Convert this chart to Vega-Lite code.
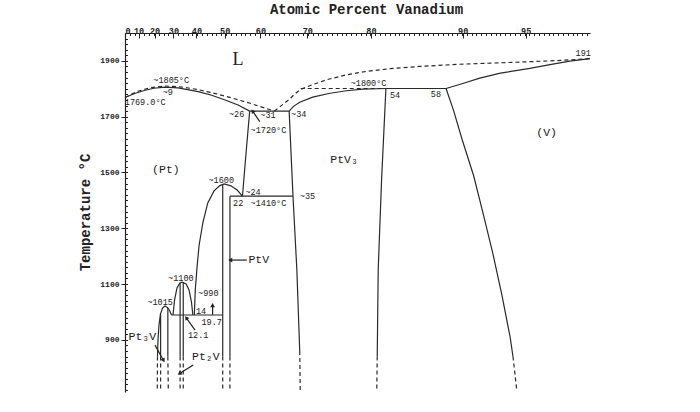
{
  "$schema": "https://vega.github.io/schema/vega-lite/v6.json",
  "width": 465,
  "height": 359,
  "autosize": {"type": "none"},
  "padding": {"left": 125, "top": 33, "right": 110, "bottom": 20},
  "background": "white",
  "view": {"stroke": null},
  "config": {"axis": {"grid": false, "domainColor": "#222", "tickColor": "#222", "labelColor": "#222", "titleColor": "#222"}},
  "datasets": {
    "solid": [
      {"id": "s1", "o": 0, "wt": 0, "T": 1769}, {"id": "s1", "o": 1, "wt": 2, "T": 1783}, {"id": "s1", "o": 2, "wt": 4, "T": 1794}, {"id": "s1", "o": 3, "wt": 6, "T": 1802}, {"id": "s1", "o": 4, "wt": 8.3, "T": 1806}, {"id": "s1", "o": 5, "wt": 11, "T": 1803}, {"id": "s1", "o": 6, "wt": 13, "T": 1797}, {"id": "s1", "o": 7, "wt": 15.2, "T": 1790}, {"id": "s1", "o": 8, "wt": 18, "T": 1777}, {"id": "s1", "o": 9, "wt": 20.8, "T": 1760}, {"id": "s1", "o": 10, "wt": 23.5, "T": 1742}, {"id": "s1", "o": 11, "wt": 25.9, "T": 1720},
      {"id": "s2", "o": 0, "wt": 25.9, "T": 1720}, {"id": "s2", "o": 1, "wt": 34.1, "T": 1720},
      {"id": "s3", "o": 0, "wt": 34.1, "T": 1720}, {"id": "s3", "o": 1, "wt": 35, "T": 1737}, {"id": "s3", "o": 2, "wt": 36.3, "T": 1752}, {"id": "s3", "o": 3, "wt": 39, "T": 1770}, {"id": "s3", "o": 4, "wt": 42.6, "T": 1784}, {"id": "s3", "o": 5, "wt": 46, "T": 1793}, {"id": "s3", "o": 6, "wt": 49.4, "T": 1799}, {"id": "s3", "o": 7, "wt": 54.2, "T": 1801},
      {"id": "s4", "o": 0, "wt": 54.2, "T": 1801}, {"id": "s4", "o": 1, "wt": 66.7, "T": 1801},
      {"id": "s5", "o": 0, "wt": 66.7, "T": 1801}, {"id": "s5", "o": 1, "wt": 70, "T": 1818}, {"id": "s5", "o": 2, "wt": 73.7, "T": 1838}, {"id": "s5", "o": 3, "wt": 78, "T": 1856}, {"id": "s5", "o": 4, "wt": 84.1, "T": 1873}, {"id": "s5", "o": 5, "wt": 88, "T": 1886}, {"id": "s5", "o": 6, "wt": 92.4, "T": 1899}, {"id": "s5", "o": 7, "wt": 96.6, "T": 1908},
      {"id": "s6", "o": 0, "wt": 25.9, "T": 1720}, {"id": "s6", "o": 1, "wt": 25.1, "T": 1560}, {"id": "s6", "o": 2, "wt": 24.4, "T": 1415},
      {"id": "s7", "o": 0, "wt": 34.1, "T": 1720}, {"id": "s7", "o": 1, "wt": 34.9, "T": 1415}, {"id": "s7", "o": 2, "wt": 35.7, "T": 1151}, {"id": "s7", "o": 3, "wt": 36.3, "T": 860},
      {"id": "s8", "o": 0, "wt": 54.2, "T": 1801}, {"id": "s8", "o": 1, "wt": 53.3, "T": 1473}, {"id": "s8", "o": 2, "wt": 52.6, "T": 1151}, {"id": "s8", "o": 3, "wt": 52.4, "T": 840},
      {"id": "s9", "o": 0, "wt": 66.7, "T": 1801}, {"id": "s9", "o": 1, "wt": 68.3, "T": 1720}, {"id": "s9", "o": 2, "wt": 70, "T": 1620}, {"id": "s9", "o": 3, "wt": 72.4, "T": 1490}, {"id": "s9", "o": 4, "wt": 74.3, "T": 1360}, {"id": "s9", "o": 5, "wt": 76.4, "T": 1211}, {"id": "s9", "o": 6, "wt": 78.3, "T": 1060}, {"id": "s9", "o": 7, "wt": 80, "T": 911}, {"id": "s9", "o": 8, "wt": 80.6, "T": 840},
      {"id": "s10", "o": 0, "wt": 21.8, "T": 1415}, {"id": "s10", "o": 1, "wt": 34.9, "T": 1415},
      {"id": "s11", "o": 0, "wt": 14.4, "T": 989}, {"id": "s11", "o": 1, "wt": 14.6, "T": 1079}, {"id": "s11", "o": 2, "wt": 15.0, "T": 1168}, {"id": "s11", "o": 3, "wt": 15.4, "T": 1240}, {"id": "s11", "o": 4, "wt": 16.2, "T": 1322}, {"id": "s11", "o": 5, "wt": 17.2, "T": 1391}, {"id": "s11", "o": 6, "wt": 18.5, "T": 1434}, {"id": "s11", "o": 7, "wt": 19.7, "T": 1453}, {"id": "s11", "o": 8, "wt": 20.6, "T": 1459}, {"id": "s11", "o": 9, "wt": 22.0, "T": 1452}, {"id": "s11", "o": 10, "wt": 23.3, "T": 1437}, {"id": "s11", "o": 11, "wt": 24.4, "T": 1415},
      {"id": "s12", "o": 0, "wt": 20.3, "T": 1458}, {"id": "s12", "o": 1, "wt": 20.3, "T": 840},
      {"id": "s13", "o": 0, "wt": 21.8, "T": 1415}, {"id": "s13", "o": 1, "wt": 21.8, "T": 840},
      {"id": "s14", "o": 0, "wt": 9.66, "T": 989}, {"id": "s14", "o": 1, "wt": 20.3, "T": 989},
      {"id": "s15", "o": 0, "wt": 9.97, "T": 989}, {"id": "s15", "o": 1, "wt": 10.3, "T": 1043}, {"id": "s15", "o": 2, "wt": 10.8, "T": 1086}, {"id": "s15", "o": 3, "wt": 11.4, "T": 1104}, {"id": "s15", "o": 4, "wt": 11.9, "T": 1107}, {"id": "s15", "o": 5, "wt": 12.7, "T": 1100}, {"id": "s15", "o": 6, "wt": 13.3, "T": 1079}, {"id": "s15", "o": 7, "wt": 13.8, "T": 1036}, {"id": "s15", "o": 8, "wt": 14.1, "T": 989},
      {"id": "s16", "o": 0, "wt": 11.45, "T": 1104}, {"id": "s16", "o": 1, "wt": 11.45, "T": 840},
      {"id": "s17", "o": 0, "wt": 12.1, "T": 1106}, {"id": "s17", "o": 1, "wt": 12.1, "T": 840},
      {"id": "s18", "o": 0, "wt": 6.75, "T": 840}, {"id": "s18", "o": 1, "wt": 6.85, "T": 900}, {"id": "s18", "o": 2, "wt": 7.06, "T": 953}, {"id": "s18", "o": 3, "wt": 7.37, "T": 993}, {"id": "s18", "o": 4, "wt": 7.8, "T": 1014}, {"id": "s18", "o": 5, "wt": 8.3, "T": 1021}, {"id": "s18", "o": 6, "wt": 8.8, "T": 1016}, {"id": "s18", "o": 7, "wt": 9.2, "T": 1007}, {"id": "s18", "o": 8, "wt": 9.66, "T": 989},
      {"id": "s19", "o": 0, "wt": 7.4, "T": 993}, {"id": "s19", "o": 1, "wt": 7.4, "T": 840},
      {"id": "s20", "o": 0, "wt": 8.9, "T": 1015}, {"id": "s20", "o": 1, "wt": 8.9, "T": 840}
    ],
    "dashed": [
      {"id": "d1", "o": 0, "wt": 0, "T": 1769}, {"id": "d1", "o": 1, "wt": 2.5, "T": 1790}, {"id": "d1", "o": 2, "wt": 5, "T": 1803}, {"id": "d1", "o": 3, "wt": 8.3, "T": 1810}, {"id": "d1", "o": 4, "wt": 12, "T": 1806}, {"id": "d1", "o": 5, "wt": 15.2, "T": 1797}, {"id": "d1", "o": 6, "wt": 19, "T": 1782}, {"id": "d1", "o": 7, "wt": 22.2, "T": 1767}, {"id": "d1", "o": 8, "wt": 26, "T": 1748}, {"id": "d1", "o": 9, "wt": 31, "T": 1720},
      {"id": "d2", "o": 0, "wt": 31, "T": 1720}, {"id": "d2", "o": 1, "wt": 32.2, "T": 1736}, {"id": "d2", "o": 2, "wt": 34, "T": 1760}, {"id": "d2", "o": 3, "wt": 35.3, "T": 1782}, {"id": "d2", "o": 4, "wt": 36.5, "T": 1798}, {"id": "d2", "o": 5, "wt": 39, "T": 1815}, {"id": "d2", "o": 6, "wt": 42, "T": 1833}, {"id": "d2", "o": 7, "wt": 46, "T": 1850}, {"id": "d2", "o": 8, "wt": 50, "T": 1862}, {"id": "d2", "o": 9, "wt": 55, "T": 1872}, {"id": "d2", "o": 10, "wt": 61, "T": 1880}, {"id": "d2", "o": 11, "wt": 69.6, "T": 1888}, {"id": "d2", "o": 12, "wt": 79.3, "T": 1894}, {"id": "d2", "o": 13, "wt": 89.7, "T": 1901}, {"id": "d2", "o": 14, "wt": 96.6, "T": 1908},
      {"id": "d3", "o": 0, "wt": 36.5, "T": 1801}, {"id": "d3", "o": 1, "wt": 54.2, "T": 1801},
      {"id": "b1", "o": 0, "wt": 6.75, "T": 840}, {"id": "b1", "o": 1, "wt": 6.7, "T": 718},
      {"id": "b2", "o": 0, "wt": 7.4, "T": 840}, {"id": "b2", "o": 1, "wt": 7.4, "T": 718},
      {"id": "b3", "o": 0, "wt": 8.9, "T": 840}, {"id": "b3", "o": 1, "wt": 9.0, "T": 718},
      {"id": "b4", "o": 0, "wt": 11.45, "T": 840}, {"id": "b4", "o": 1, "wt": 11.45, "T": 718},
      {"id": "b5", "o": 0, "wt": 12.1, "T": 840}, {"id": "b5", "o": 1, "wt": 12.1, "T": 718},
      {"id": "b6", "o": 0, "wt": 20.3, "T": 840}, {"id": "b6", "o": 1, "wt": 20.3, "T": 718},
      {"id": "b7", "o": 0, "wt": 21.8, "T": 840}, {"id": "b7", "o": 1, "wt": 21.8, "T": 718},
      {"id": "b8", "o": 0, "wt": 36.3, "T": 860}, {"id": "b8", "o": 1, "wt": 36.4, "T": 718},
      {"id": "b9", "o": 0, "wt": 52.4, "T": 840}, {"id": "b9", "o": 1, "wt": 52.3, "T": 718},
      {"id": "b10", "o": 0, "wt": 80.6, "T": 840}, {"id": "b10", "o": 1, "wt": 81.4, "T": 718}
    ],
    "smallText": [
      {"t": "~1805°C", "wt": 9.6, "T": 1833}, {"t": "~9", "wt": 8.9, "T": 1790}, {"t": "1769.0°C", "wt": 4.2, "T": 1752},
      {"t": "~26", "wt": 23.2, "T": 1709}, {"t": "~31", "wt": 29.7, "T": 1706}, {"t": "~34", "wt": 36.1, "T": 1710},
      {"t": "~1720°C", "wt": 29.8, "T": 1652}, {"t": "~1800°C", "wt": 50.6, "T": 1820}, {"t": "54", "wt": 56.1, "T": 1778},
      {"t": "58", "wt": 64.6, "T": 1780}, {"t": "191", "wt": 95.2, "T": 1927}, {"t": "~1600", "wt": 20.0, "T": 1473},
      {"t": "~24", "wt": 26.6, "T": 1431}, {"t": "22", "wt": 23.5, "T": 1390}, {"t": "~1410°C", "wt": 29.8, "T": 1390},
      {"t": "~35", "wt": 37.9, "T": 1416}, {"t": "~1100", "wt": 11.6, "T": 1122}, {"t": "~1015", "wt": 7.3, "T": 1037},
      {"t": "~990", "wt": 17.3, "T": 1067}, {"t": "14", "wt": 15.8, "T": 1003}, {"t": "19.7", "wt": 18.0, "T": 965},
      {"t": "12.1", "wt": 15.2, "T": 917}
    ],
    "midText": [
      {"t": "(Pt)", "wt": 8.5, "T": 1509}, {"t": "PtV₃", "wt": 45.5, "T": 1545}, {"t": "(V)", "wt": 87.6, "T": 1641},
      {"t": "PtV", "wt": 27.8, "T": 1186}, {"t": "Pt₃V", "wt": 3.6, "T": 911}, {"t": "Pt₂V", "wt": 16.8, "T": 840}
    ],
    "bigText": [{"t": "L", "wt": 23.5, "T": 1903}],
    "arrows": [
      {"wt": 28.0, "T": 1682, "wt2": 26.6, "T2": 1718, "ang": 326},
      {"wt": 25.3, "T": 1186, "wt2": 22.0, "T2": 1186, "ang": 270},
      {"wt": 14.54, "T": 935, "wt2": 12.81, "T2": 977, "ang": 325},
      {"wt": 18.2, "T": 990, "wt2": 18.2, "T2": 1022, "ang": 0},
      {"wt": 6.23, "T": 881, "wt2": 7.95, "T2": 828, "ang": 151},
      {"wt": 14.18, "T": 810, "wt2": 11.42, "T2": 780, "ang": 238}
    ]
  },
  "layer": [
    {
      "data": {"name": "solid"},
      "mark": {"type": "line", "color": "#2a2a2a", "strokeWidth": 1.2},
      "encoding": {
        "x": {"field": "wt", "type": "quantitative", "scale": {"domain": [0, 96.6], "nice": false, "zero": false},
          "axis": {"orient": "top", "values": [0, 2.82, 6.13, 10.06, 14.83, 20.71, 28.14, 37.86, 51.09, 70.15, 83.23],
            "labelExpr": "format(round(100*(datum.value/50.94)/(datum.value/50.94+(100-datum.value)/195.08)),'d')",
            "labelOverlap": false, "labelFont": "Liberation Mono", "labelFontSize": 8.5, "labelFontWeight": "bold",
            "tickSize": -5, "labelPadding": 3, "domainWidth": 1.2,
            "title": "Atomic Percent Vanadium", "titleFont": "Liberation Mono", "titleFontSize": 14, "titleFontWeight": "bold",
            "titleX": 241, "titleY": -20, "titleBaseline": "alphabetic", "titleAlign": "center"}},
        "y": {"field": "T", "type": "quantitative", "scale": {"domain": [713, 2000], "nice": false, "zero": false},
          "axis": {"orient": "left", "values": [900, 1100, 1300, 1500, 1700, 1900], "format": "d",
            "labelFont": "Liberation Mono", "labelFontSize": 8, "labelFontWeight": "bold", "tickSize": 4, "labelPadding": 2, "domainWidth": 1.2,
            "title": "Temperature °C", "titleFont": "Liberation Mono", "titleFontSize": 14, "titleFontWeight": "bold",
            "titleX": -40, "titleY": 179, "titleAngle": -90, "titleAlign": "center", "titleBaseline": "middle"}},
        "detail": {"field": "id"},
        "order": {"field": "o", "type": "quantitative"}
      }
    },
    {
      "data": {"name": "dashed"},
      "mark": {"type": "line", "color": "#2a2a2a", "strokeWidth": 1.2, "strokeDash": [4, 3]},
      "encoding": {
        "x": {"field": "wt", "type": "quantitative", "scale": {"domain": [0, 96.6], "nice": false, "zero": false}, "axis": null},
        "y": {"field": "T", "type": "quantitative", "scale": {"domain": [713, 2000], "nice": false, "zero": false}, "axis": null},
        "detail": {"field": "id"},
        "order": {"field": "o", "type": "quantitative"}
      }
    },
    {
      "data": {"name": "smallText"},
      "mark": {"type": "text", "font": "Liberation Mono", "fontSize": 8.5, "color": "#222", "align": "center", "baseline": "middle"},
      "encoding": {
        "x": {"field": "wt", "type": "quantitative", "scale": {"domain": [0, 96.6], "nice": false, "zero": false},
          "axis": {"orient": "top", "labels": false, "domain": false, "title": null, "tickSize": -2.5,
            "values": [0,1,2,3,4,5,6,7,8,9,10,11,12,13,14,15,16,17,18,19,20,21,22,23,24,25,26,27,28,29,30,31,32,33,34,35,36,37,38,39,40,41,42,43,44,45,46,47,48,49,50,51,52,53,54,55,56,57,58,59,60,61,62,63,64,65,66,67,68,69,70,71,72,73,74,75,76,77,78,79,80,81,82,83,84,85,86,87,88,89,90,91,92,93,94,95,96]}},
        "y": {"field": "T", "type": "quantitative", "scale": {"domain": [713, 2000], "nice": false, "zero": false},
          "axis": {"orient": "left", "labels": false, "domain": false, "title": null, "tickSize": -2.5,
            "values": [720,740,760,780,800,820,840,860,880,900,920,940,960,980,1000,1020,1040,1060,1080,1100,1120,1140,1160,1180,1200,1220,1240,1260,1280,1300,1320,1340,1360,1380,1400,1420,1440,1460,1480,1500,1520,1540,1560,1580,1600,1620,1640,1660,1680,1700,1720,1740,1760,1780,1800,1820,1840,1860,1880,1900,1920,1940,1960,1980]}},
        "text": {"field": "t"}
      }
    },
    {
      "data": {"name": "midText"},
      "mark": {"type": "text", "font": "Liberation Mono", "fontSize": 11.5, "color": "#222", "align": "center", "baseline": "middle"},
      "encoding": {
        "x": {"field": "wt", "type": "quantitative", "scale": {"domain": [0, 96.6], "nice": false, "zero": false}, "axis": null},
        "y": {"field": "T", "type": "quantitative", "scale": {"domain": [713, 2000], "nice": false, "zero": false}, "axis": null},
        "text": {"field": "t"}
      }
    },
    {
      "data": {"name": "bigText"},
      "mark": {"type": "text", "font": "Liberation Serif", "fontSize": 18, "color": "#222", "align": "center", "baseline": "middle"},
      "encoding": {
        "x": {"field": "wt", "type": "quantitative", "scale": {"domain": [0, 96.6], "nice": false, "zero": false}, "axis": null},
        "y": {"field": "T", "type": "quantitative", "scale": {"domain": [713, 2000], "nice": false, "zero": false}, "axis": null},
        "text": {"field": "t"}
      }
    },
    {
      "data": {"name": "arrows"},
      "mark": {"type": "rule", "color": "#222", "strokeWidth": 1.2},
      "encoding": {
        "x": {"field": "wt", "type": "quantitative", "scale": {"domain": [0, 96.6], "nice": false, "zero": false}, "axis": null},
        "y": {"field": "T", "type": "quantitative", "scale": {"domain": [713, 2000], "nice": false, "zero": false}, "axis": null},
        "x2": {"field": "wt2"},
        "y2": {"field": "T2"}
      }
    },
    {
      "data": {"name": "arrows"},
      "mark": {"type": "point", "shape": "triangle", "filled": true, "color": "#222", "size": 22, "opacity": 1},
      "encoding": {
        "x": {"field": "wt2", "type": "quantitative", "scale": {"domain": [0, 96.6], "nice": false, "zero": false}, "axis": null},
        "y": {"field": "T2", "type": "quantitative", "scale": {"domain": [713, 2000], "nice": false, "zero": false}, "axis": null},
        "angle": {"field": "ang", "type": "quantitative", "scale": null}
      }
    }
  ],
  "resolve": {"axis": {"x": "independent", "y": "independent"}}
}
